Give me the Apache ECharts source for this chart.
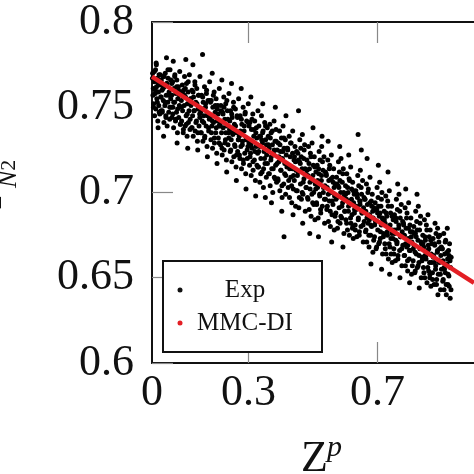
<!DOCTYPE html>
<html>
<head>
<meta charset="utf-8">
<script src="https://cdn.jsdelivr.net/npm/echarts@6/dist/echarts.min.js"></script>
<style>
  html, body { margin: 0; padding: 0; background: #fff; }
  #chart { width: 474px; height: 474px; }
</style>
</head>
<body>
<div id="chart"></div>
<script>
// values
var xTicks = [0.3, 0.7]
var xLabels = [0, 0.3, 0.7]
var yTicks = [0.6, 0.65, 0.7, 0.75, 0.8]
var legendNames = ['Exp', 'MMC-DI']

// fitted line (MMC-DI)
var fitPoints = [[0, 0.768], [1, 0.647]]

// experimental scatter (Exp), estimated from the dots
var expPoints = [
  [0.002,0.770],[0.004,0.761],[0.005,0.752],[0.007,0.765],[0.008,0.745],[0.010,0.758],[0.011,0.772],[0.012,0.749],[0.014,0.762],[0.015,0.755],[0.017,0.767],[0.018,0.742],[0.020,0.759],[0.021,0.751],[0.022,0.769],[0.024,0.746],[0.025,0.763],[0.027,0.756],[0.028,0.748],[0.029,0.766],[0.003,0.757],[0.013,0.776],[0.019,0.738],
  [0.031,0.760],[0.032,0.748],[0.034,0.768],[0.035,0.754],[0.037,0.741],[0.038,0.762],[0.040,0.751],[0.041,0.770],[0.043,0.745],[0.044,0.757],[0.046,0.764],[0.047,0.739],[0.049,0.753],[0.050,0.767],[0.052,0.747],[0.053,0.759],[0.055,0.743],[0.056,0.772],[0.058,0.755],[0.059,0.750],[0.045,0.779],[0.036,0.733],
  [0.061,0.757],[0.062,0.744],[0.064,0.765],[0.065,0.750],[0.067,0.738],[0.068,0.761],[0.070,0.753],[0.071,0.769],[0.073,0.742],[0.074,0.758],[0.076,0.747],[0.077,0.766],[0.079,0.735],[0.080,0.755],[0.082,0.762],[0.083,0.744],[0.085,0.751],[0.086,0.771],[0.088,0.740],[0.089,0.758],[0.066,0.777],[0.078,0.729],
  [0.091,0.754],[0.092,0.742],[0.094,0.763],[0.095,0.748],[0.097,0.735],[0.098,0.760],[0.100,0.751],[0.101,0.768],[0.103,0.739],[0.104,0.756],[0.106,0.745],[0.107,0.764],[0.109,0.733],[0.110,0.752],[0.112,0.759],[0.113,0.741],[0.115,0.748],[0.116,0.769],[0.118,0.737],[0.119,0.755],[0.105,0.778],[0.111,0.726],
  [0.121,0.751],[0.123,0.738],[0.124,0.760],[0.126,0.745],[0.128,0.733],[0.129,0.756],[0.131,0.748],[0.133,0.765],[0.134,0.736],[0.136,0.753],[0.138,0.742],[0.139,0.761],[0.141,0.730],[0.143,0.749],[0.144,0.757],[0.146,0.739],[0.148,0.746],[0.149,0.768],[0.127,0.775],[0.142,0.725],
  [0.151,0.747],[0.153,0.735],[0.154,0.757],[0.156,0.742],[0.158,0.730],[0.159,0.753],[0.161,0.745],[0.163,0.762],[0.164,0.733],[0.166,0.750],[0.168,0.739],[0.169,0.758],[0.171,0.727],[0.173,0.746],[0.174,0.754],[0.176,0.736],[0.178,0.743],[0.179,0.765],[0.157,0.781],[0.172,0.721],
  [0.181,0.744],[0.183,0.731],[0.184,0.754],[0.186,0.739],[0.188,0.726],[0.189,0.750],[0.191,0.741],[0.193,0.759],[0.194,0.729],[0.196,0.747],[0.198,0.735],[0.199,0.755],[0.201,0.723],[0.203,0.742],[0.204,0.751],[0.206,0.732],[0.208,0.739],[0.209,0.761],[0.187,0.770],[0.202,0.717],
  [0.211,0.740],[0.213,0.728],[0.214,0.751],[0.216,0.735],[0.218,0.722],[0.219,0.747],[0.221,0.738],[0.223,0.756],[0.224,0.725],[0.226,0.743],[0.228,0.731],[0.229,0.752],[0.231,0.719],[0.233,0.739],[0.234,0.748],[0.236,0.728],[0.238,0.735],[0.239,0.758],[0.217,0.766],[0.232,0.712],
  [0.241,0.737],[0.243,0.724],[0.244,0.748],[0.246,0.731],[0.248,0.718],[0.249,0.744],[0.251,0.734],[0.253,0.753],[0.254,0.721],[0.256,0.740],[0.258,0.727],[0.259,0.749],[0.261,0.715],[0.263,0.735],[0.264,0.745],[0.266,0.724],[0.268,0.731],[0.269,0.755],[0.247,0.764],[0.262,0.707],
  [0.271,0.733],[0.273,0.720],[0.274,0.745],[0.276,0.727],[0.278,0.714],[0.279,0.740],[0.281,0.730],[0.283,0.750],[0.284,0.717],[0.286,0.736],[0.288,0.723],[0.289,0.746],[0.291,0.711],[0.293,0.731],[0.294,0.742],[0.296,0.720],[0.298,0.727],[0.299,0.752],[0.277,0.761],[0.292,0.702],
  [0.301,0.729],[0.303,0.716],[0.304,0.741],[0.306,0.723],[0.308,0.710],[0.309,0.737],[0.311,0.726],[0.313,0.746],[0.314,0.713],[0.316,0.733],[0.318,0.719],[0.319,0.742],[0.321,0.707],[0.323,0.727],[0.324,0.738],[0.326,0.716],[0.328,0.723],[0.329,0.748],[0.307,0.756],[0.322,0.698],
  [0.331,0.715],[0.332,0.739],[0.334,0.727],[0.335,0.706],[0.337,0.733],[0.338,0.720],[0.340,0.745],[0.342,0.712],[0.343,0.729],[0.345,0.736],[0.346,0.703],[0.348,0.724],[0.350,0.741],[0.351,0.717],[0.353,0.731],[0.355,0.709],[0.356,0.722],[0.358,0.738],[0.344,0.752],[0.352,0.697],
  [0.361,0.733],[0.362,0.711],[0.364,0.726],[0.366,0.740],[0.367,0.704],[0.369,0.719],[0.370,0.735],[0.372,0.714],[0.374,0.728],[0.375,0.700],[0.377,0.723],[0.379,0.742],[0.380,0.709],[0.382,0.730],[0.384,0.716],[0.385,0.737],[0.387,0.706],[0.389,0.725],[0.371,0.694],[0.383,0.750],
  [0.391,0.708],[0.392,0.729],[0.394,0.718],[0.396,0.736],[0.397,0.701],[0.399,0.724],[0.400,0.713],[0.402,0.732],[0.404,0.697],[0.405,0.720],[0.407,0.739],[0.409,0.705],[0.410,0.726],[0.412,0.711],[0.414,0.731],[0.415,0.699],[0.417,0.722],[0.419,0.715],[0.403,0.689],[0.416,0.745],
  [0.421,0.726],[0.423,0.703],[0.424,0.716],[0.426,0.733],[0.427,0.697],[0.429,0.721],[0.431,0.709],[0.432,0.729],[0.434,0.694],[0.436,0.714],[0.437,0.736],[0.439,0.702],[0.441,0.719],[0.442,0.707],[0.444,0.727],[0.446,0.692],[0.447,0.713],[0.449,0.724],[0.410,0.674],[0.438,0.687],
  [0.451,0.701],[0.453,0.723],[0.454,0.712],[0.456,0.691],[0.458,0.718],[0.459,0.731],[0.461,0.705],[0.462,0.726],[0.464,0.696],[0.466,0.714],[0.467,0.734],[0.469,0.699],[0.471,0.720],[0.472,0.708],[0.474,0.728],[0.476,0.689],[0.477,0.711],[0.479,0.703],[0.455,0.748],[0.468,0.682],
  [0.481,0.719],[0.483,0.697],[0.484,0.710],[0.486,0.727],[0.488,0.690],[0.489,0.714],[0.491,0.702],[0.492,0.723],[0.494,0.686],[0.496,0.707],[0.497,0.729],[0.499,0.694],[0.501,0.716],[0.502,0.700],[0.504,0.721],[0.506,0.684],[0.507,0.705],[0.509,0.712],[0.490,0.676],[0.500,0.738],
  [0.511,0.694],[0.513,0.716],[0.514,0.703],[0.516,0.685],[0.518,0.711],[0.519,0.724],[0.521,0.698],[0.522,0.719],[0.524,0.688],[0.526,0.707],[0.527,0.727],[0.529,0.692],[0.531,0.713],[0.532,0.700],[0.534,0.721],[0.536,0.682],[0.537,0.704],[0.539,0.696],[0.517,0.674],[0.528,0.733],
  [0.541,0.711],[0.543,0.690],[0.544,0.703],[0.546,0.719],[0.548,0.683],[0.549,0.707],[0.551,0.695],[0.552,0.716],[0.554,0.680],[0.556,0.700],[0.557,0.722],[0.559,0.687],[0.561,0.709],[0.562,0.693],[0.564,0.714],[0.566,0.678],[0.567,0.698],[0.569,0.705],[0.547,0.730],[0.558,0.671],
  [0.571,0.688],[0.573,0.709],[0.574,0.697],[0.576,0.679],[0.578,0.704],[0.579,0.718],[0.581,0.691],[0.582,0.712],[0.584,0.682],[0.586,0.700],[0.587,0.720],[0.589,0.685],[0.591,0.706],[0.592,0.694],[0.594,0.714],[0.596,0.676],[0.597,0.698],[0.599,0.689],[0.583,0.727],[0.593,0.668],
  [0.601,0.704],[0.602,0.684],[0.604,0.696],[0.605,0.711],[0.607,0.678],[0.609,0.700],[0.610,0.689],[0.612,0.708],[0.613,0.675],[0.615,0.693],[0.617,0.715],[0.618,0.682],[0.620,0.702],[0.621,0.687],[0.623,0.706],[0.625,0.673],[0.626,0.694],[0.628,0.699],[0.611,0.722],[0.624,0.680],[0.629,0.690],
  [0.631,0.681],[0.633,0.701],[0.634,0.690],[0.636,0.674],[0.638,0.697],[0.639,0.710],[0.641,0.685],[0.642,0.704],[0.644,0.677],[0.646,0.693],[0.647,0.713],[0.649,0.680],[0.651,0.699],[0.652,0.688],[0.654,0.707],[0.656,0.671],[0.657,0.691],[0.659,0.683],[0.640,0.734],[0.650,0.725],[0.645,0.695],
  [0.661,0.696],[0.663,0.677],[0.664,0.689],[0.666,0.705],[0.667,0.671],[0.669,0.693],[0.671,0.682],[0.672,0.702],[0.674,0.668],[0.676,0.687],[0.677,0.709],[0.679,0.675],[0.681,0.695],[0.682,0.680],[0.684,0.699],[0.686,0.665],[0.687,0.685],[0.689,0.691],[0.668,0.720],[0.680,0.658],[0.675,0.684],
  [0.691,0.674],[0.693,0.694],[0.694,0.683],[0.696,0.667],[0.698,0.690],[0.699,0.703],[0.701,0.678],[0.702,0.697],[0.704,0.670],[0.706,0.686],[0.707,0.706],[0.709,0.673],[0.711,0.692],[0.712,0.681],[0.714,0.700],[0.716,0.664],[0.717,0.684],[0.719,0.676],[0.703,0.716],[0.713,0.655],[0.708,0.688],
  [0.721,0.689],[0.723,0.670],[0.724,0.682],[0.726,0.698],[0.727,0.664],[0.729,0.686],[0.731,0.675],[0.732,0.695],[0.734,0.661],[0.736,0.680],[0.737,0.701],[0.739,0.668],[0.741,0.688],[0.742,0.673],[0.744,0.692],[0.746,0.659],[0.747,0.678],[0.749,0.684],[0.733,0.712],[0.738,0.652],[0.745,0.676],
  [0.751,0.667],[0.753,0.687],[0.754,0.676],[0.756,0.660],[0.758,0.683],[0.759,0.696],[0.761,0.671],[0.762,0.690],[0.764,0.663],[0.766,0.679],[0.767,0.699],[0.769,0.666],[0.771,0.685],[0.772,0.674],[0.774,0.693],[0.776,0.657],[0.777,0.677],[0.779,0.669],[0.763,0.705],[0.770,0.650],[0.757,0.672],
  [0.781,0.682],[0.783,0.663],[0.784,0.675],[0.786,0.691],[0.787,0.657],[0.789,0.679],[0.791,0.668],[0.792,0.688],[0.794,0.654],[0.796,0.673],[0.797,0.694],[0.799,0.661],[0.801,0.681],[0.802,0.666],[0.804,0.685],[0.806,0.652],[0.807,0.671],[0.809,0.677],[0.788,0.702],[0.800,0.647],[0.795,0.669],
  [0.811,0.660],[0.813,0.680],[0.814,0.669],[0.816,0.653],[0.818,0.676],[0.819,0.689],[0.821,0.664],[0.822,0.683],[0.824,0.656],[0.826,0.672],[0.827,0.692],[0.829,0.659],[0.831,0.678],[0.832,0.667],[0.834,0.686],[0.836,0.650],[0.837,0.670],[0.839,0.662],[0.823,0.699],[0.830,0.644],[0.817,0.665],
  [0.841,0.675],[0.843,0.656],[0.844,0.668],[0.846,0.684],[0.847,0.650],[0.849,0.672],[0.851,0.661],[0.852,0.681],[0.854,0.647],[0.856,0.666],[0.857,0.687],[0.859,0.654],[0.861,0.674],[0.862,0.659],[0.864,0.678],[0.866,0.645],[0.867,0.664],[0.869,0.670],[0.848,0.663],[0.858,0.669],[0.863,0.652],
  [0.871,0.653],[0.873,0.673],[0.874,0.662],[0.876,0.646],[0.878,0.669],[0.879,0.682],[0.881,0.657],[0.882,0.676],[0.884,0.649],[0.886,0.665],[0.887,0.679],[0.889,0.652],[0.891,0.671],[0.892,0.660],[0.894,0.675],[0.896,0.643],[0.897,0.663],[0.899,0.655],[0.877,0.659],[0.888,0.640],[0.893,0.667],
  [0.901,0.667],[0.903,0.648],[0.904,0.660],[0.906,0.676],[0.907,0.643],[0.909,0.664],[0.911,0.653],[0.912,0.672],[0.914,0.640],[0.916,0.658],[0.917,0.679],[0.919,0.646],[0.921,0.666],[0.922,0.651],[0.924,0.670],[0.926,0.638],[0.927,0.656],[0.929,0.662],[0.908,0.655],[0.918,0.661],[0.923,0.645],
  // denser core near the fitted line
  [0.0015,0.767],[0.0045,0.750],[0.0075,0.771],[0.0105,0.760],[0.0135,0.775],[0.0165,0.753],[0.0195,0.764],[0.0225,0.747],[0.0255,0.769],[0.0285,0.756],
  [0.0315,0.747],[0.0345,0.761],[0.0375,0.768],[0.0405,0.753],[0.0435,0.744],[0.0465,0.764],[0.0495,0.772],[0.0525,0.757],[0.0555,0.750],[0.0585,0.766],
  [0.0615,0.764],[0.0645,0.746],[0.0675,0.753],[0.0705,0.768],[0.0735,0.743],[0.0765,0.762],[0.0795,0.749],[0.0825,0.760],[0.0855,0.757],[0.0885,0.740],
  [0.0915,0.750],[0.0945,0.759],[0.0975,0.737],[0.1005,0.757],[0.1035,0.761],[0.1065,0.740],[0.1095,0.746],[0.1125,0.765],[0.1155,0.754],[0.1185,0.743],
  [0.1215,0.755],[0.1245,0.738],[0.1275,0.759],[0.1305,0.748],[0.1335,0.763],[0.1365,0.741],[0.1395,0.752],[0.1425,0.735],[0.1455,0.757],[0.1485,0.744],
  [0.1515,0.735],[0.1545,0.749],[0.1575,0.756],[0.1605,0.741],[0.1635,0.732],[0.1665,0.752],[0.1695,0.760],[0.1725,0.745],[0.1755,0.738],[0.1785,0.754],
  [0.1815,0.753],[0.1845,0.735],[0.1875,0.742],[0.1905,0.757],[0.1935,0.732],[0.1965,0.751],[0.1995,0.738],[0.2025,0.749],[0.2055,0.746],[0.2085,0.729],
  [0.2115,0.739],[0.2145,0.748],[0.2175,0.726],[0.2205,0.746],[0.2235,0.750],[0.2265,0.729],[0.2295,0.735],[0.2325,0.754],[0.2355,0.743],[0.2385,0.732],
  [0.2415,0.742],[0.2445,0.725],[0.2475,0.746],[0.2505,0.735],[0.2535,0.750],[0.2565,0.728],[0.2595,0.739],[0.2625,0.722],[0.2655,0.744],[0.2685,0.731],
  [0.2715,0.722],[0.2745,0.736],[0.2775,0.743],[0.2805,0.728],[0.2835,0.719],[0.2865,0.739],[0.2895,0.747],[0.2925,0.732],[0.2955,0.725],[0.2985,0.741],
  [0.3015,0.739],[0.3045,0.721],[0.3075,0.728],[0.3105,0.743],[0.3135,0.718],[0.3165,0.737],[0.3195,0.724],[0.3225,0.735],[0.3255,0.732],[0.3285,0.715],
  [0.3315,0.724],[0.3345,0.733],[0.3375,0.711],[0.3405,0.731],[0.3435,0.735],[0.3465,0.714],[0.3495,0.720],[0.3525,0.739],[0.3555,0.728],[0.3585,0.717],
  [0.3615,0.728],[0.3645,0.711],[0.3675,0.732],[0.3705,0.721],[0.3735,0.736],[0.3765,0.714],[0.3795,0.725],[0.3825,0.708],[0.3855,0.730],[0.3885,0.717],
  [0.3915,0.707],[0.3945,0.721],[0.3975,0.728],[0.4005,0.713],[0.4035,0.704],[0.4065,0.724],[0.4095,0.732],[0.4125,0.717],[0.4155,0.710],[0.4185,0.726],
  [0.4215,0.725],[0.4245,0.707],[0.4275,0.714],[0.4305,0.729],[0.4335,0.704],[0.4365,0.723],[0.4395,0.710],[0.4425,0.721],[0.4455,0.718],[0.4485,0.701],
  [0.4515,0.710],[0.4545,0.719],[0.4575,0.697],[0.4605,0.717],[0.4635,0.721],[0.4665,0.700],[0.4695,0.706],[0.4725,0.725],[0.4755,0.714],[0.4785,0.703],
  [0.4815,0.713],[0.4845,0.696],[0.4875,0.717],[0.4905,0.706],[0.4935,0.721],[0.4965,0.699],[0.4995,0.710],[0.5025,0.693],[0.5055,0.715],[0.5085,0.702],
  [0.5115,0.693],[0.5145,0.707],[0.5175,0.714],[0.5205,0.699],[0.5235,0.690],[0.5265,0.710],[0.5295,0.718],[0.5325,0.703],[0.5355,0.696],[0.5385,0.712],
  [0.5415,0.710],[0.5445,0.692],[0.5475,0.699],[0.5505,0.714],[0.5535,0.689],[0.5565,0.708],[0.5595,0.695],[0.5625,0.706],[0.5655,0.703],[0.5685,0.686],
  [0.5715,0.696],[0.5745,0.705],[0.5775,0.683],[0.5805,0.703],[0.5835,0.707],[0.5865,0.686],[0.5895,0.692],[0.5925,0.711],[0.5955,0.700],[0.5985,0.689],
  [0.6015,0.699],[0.6045,0.682],[0.6075,0.703],[0.6105,0.692],[0.6135,0.707],[0.6165,0.685],[0.6195,0.696],[0.6225,0.679],[0.6255,0.701],[0.6285,0.688],
  [0.6315,0.678],[0.6345,0.692],[0.6375,0.699],[0.6405,0.684],[0.6435,0.675],[0.6465,0.695],[0.6495,0.703],[0.6525,0.688],[0.6555,0.681],[0.6585,0.697],
  [0.6615,0.696],[0.6645,0.678],[0.6675,0.685],[0.6705,0.700],[0.6735,0.675],[0.6765,0.694],[0.6795,0.681],[0.6825,0.692],[0.6855,0.689],[0.6885,0.672],
  [0.6915,0.681],[0.6945,0.690],[0.6975,0.668],[0.7005,0.688],[0.7035,0.692],[0.7065,0.671],[0.7095,0.677],[0.7125,0.696],[0.7155,0.685],[0.7185,0.674],
  [0.7215,0.684],[0.7245,0.667],[0.7275,0.688],[0.7305,0.677],[0.7335,0.692],[0.7365,0.670],[0.7395,0.681],[0.7425,0.664],[0.7455,0.686],[0.7485,0.673],
  [0.7515,0.664],[0.7545,0.678],[0.7575,0.685],[0.7605,0.670],[0.7635,0.661],[0.7665,0.681],[0.7695,0.689],[0.7725,0.674],[0.7755,0.667],[0.7785,0.683],
  [0.7815,0.681],[0.7845,0.663],[0.7875,0.670],[0.7905,0.685],[0.7935,0.660],[0.7965,0.679],[0.7995,0.666],[0.8025,0.677],[0.8055,0.674],[0.8085,0.657],
  [0.8115,0.667],[0.8145,0.676],[0.8175,0.654],[0.8205,0.674],[0.8235,0.678],[0.8265,0.657],[0.8295,0.663],[0.8325,0.682],[0.8355,0.671],[0.8385,0.660],
  [0.8415,0.670],[0.8445,0.653],[0.8475,0.674],[0.8505,0.663],[0.8535,0.678],[0.8565,0.656],[0.8595,0.667],[0.8625,0.650],[0.8655,0.672],[0.8685,0.659],
  [0.8715,0.649],[0.8745,0.663],[0.8775,0.670],[0.8805,0.655],[0.8835,0.646],[0.8865,0.666],[0.8895,0.674],[0.8925,0.659],[0.8955,0.652],[0.8985,0.668],
  [0.9015,0.667],[0.9045,0.649],[0.9075,0.656],[0.9105,0.671],[0.9135,0.646],[0.9165,0.665],[0.9195,0.652],[0.9225,0.663],[0.9255,0.660],[0.9285,0.643]
]

var serif = '"Liberation Serif", "DejaVu Serif", serif'
var red = '#e31e24'

var chart = echarts.init(document.getElementById('chart'))
chart.setOption({
  backgroundColor: '#fff',
  animation: false,
  grid: { left: 152, top: 15, width: 347, height: 348 },
  xAxis: [{
    type: 'value',
    min: 0,
    max: 1,
    position: 'bottom',
    axisLine: { lineStyle: { color: '#111', width: 2 } },
    axisTick: { show: true, inside: true, length: 21, customValues: xTicks, lineStyle: { color: '#888', width: 1.2 } },
    axisLabel: { customValues: xLabels, margin: 8, color: '#111', fontFamily: serif, fontSize: 44 },
    splitLine: { show: false }
  }, {
    type: 'value',
    min: 0,
    max: 1,
    position: 'top',
    axisLine: { lineStyle: { color: '#111', width: 2 } },
    axisTick: { show: true, inside: true, length: 21, customValues: xTicks, lineStyle: { color: '#888', width: 1.2 } },
    axisLabel: { show: false },
    splitLine: { show: false }
  }],
  yAxis: [{
    type: 'value',
    min: 0.6,
    max: 0.8,
    interval: 0.05,
    axisLine: { show: true, lineStyle: { color: '#111', width: 2 } },
    axisTick: { show: true, inside: true, length: 21, lineStyle: { color: '#888', width: 1.2 } },
    axisLabel: { margin: 18, color: '#111', fontFamily: serif, fontSize: 44 },
    splitLine: { show: false }
  }],
  series: [{
    name: legendNames[0],
    type: 'scatter',
    data: expPoints,
    symbol: 'circle',
    symbolSize: 5,
    itemStyle: { color: '#000', opacity: 1 },
    silent: true,
    z: 2
  }, {
    name: legendNames[1],
    type: 'line',
    data: fitPoints,
    showSymbol: false,
    lineStyle: { color: red, width: 4.5 },
    silent: true,
    z: 3
  }],
  graphic: [
    // legend box
    { type: 'rect', shape: { x: 163, y: 261, width: 159, height: 91 }, style: { fill: '#fff', stroke: '#111', lineWidth: 2 }, z: 10 },
    { type: 'circle', shape: { cx: 180, cy: 290, r: 2.5 }, style: { fill: '#111' }, z: 11 },
    { type: 'circle', shape: { cx: 180, cy: 323, r: 2.5 }, style: { fill: red }, z: 11 },
    { type: 'text', x: 245, y: 290, style: { text: legendNames[0], font: '25px ' + serif, fill: '#111', textAlign: 'center', textVerticalAlign: 'middle' }, z: 11 },
    { type: 'text', x: 245, y: 323, style: { text: legendNames[1], font: '25px ' + serif, fill: '#111', textAlign: 'center', textVerticalAlign: 'middle' }, z: 11 },
    // x axis name Z^p
    { type: 'text', x: 301, y: 459, style: { text: 'Z', font: '44px ' + serif, fill: '#111', textAlign: 'left', textVerticalAlign: 'middle' } },
    { type: 'text', x: 327, y: 448, style: { text: 'p', font: 'italic 30px ' + serif, fill: '#111', textAlign: 'left', textVerticalAlign: 'middle' } },
    // y axis name Y_{N_2}, rotated and cut at the left edge
    { type: 'text', x: 10, y: 212, rotation: Math.PI / 2, style: { text: 'Y', font: 'italic 38px ' + serif, fill: '#111', textAlign: 'left', textVerticalAlign: 'bottom' } },
    { type: 'text', x: 22, y: 188, rotation: Math.PI / 2, style: { text: '{n|N}{d|2}', rich: { n: { font: 'italic 26px ' + serif, fill: '#111' }, d: { font: '22px ' + serif, fill: '#111' } }, textAlign: 'left', textVerticalAlign: 'bottom' } }
  ]
})
</script>
</body>
</html>
